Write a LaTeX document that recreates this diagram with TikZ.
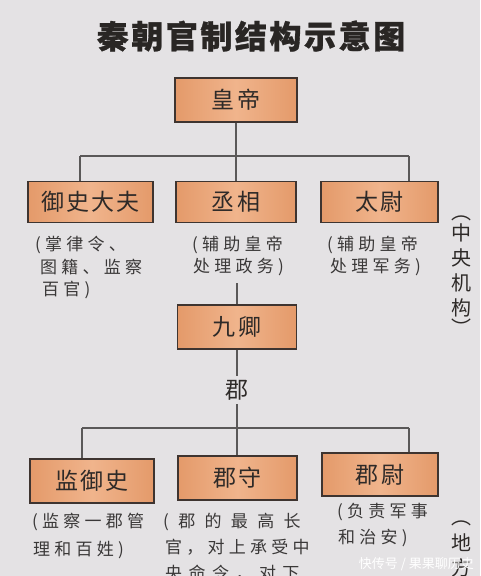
\documentclass[tikz,border=0pt]{standalone}
\usepackage{fontspec}
\newfontfamily\cjk{Noto Sans CJK SC}
\definecolor{paper}{HTML}{E4E2E4}
\definecolor{orE}{HTML}{E49A6A}
\definecolor{orM}{HTML}{F0B48C}
\definecolor{boxline}{HTML}{3E3430}
\definecolor{linec}{HTML}{5A5858}
\definecolor{ink}{HTML}{2E2A28}
\definecolor{descink}{HTML}{3A3838}
\newcommand\titlefont{\cjk\bfseries\fontsize{32}{32}\selectfont\addfontfeature{LetterSpace=8,FakeBold=1}}
\newcommand\boxfont{\cjk\fontsize{23}{23}\selectfont\addfontfeature{LetterSpace=10}}
\newcommand\descfont{\cjk\fontsize{17}{17}\selectfont\addfontfeature{LetterSpace=25}}
\newcommand\vertfont{\cjk\fontsize{20}{25}\selectfont}
\begin{document}
\begin{tikzpicture}[x=1pt,y=-1pt,
  box/.style={draw=boxline, line width=1.3pt, left color=orE, right color=orE, middle color=orM,
    inner sep=0pt, font=\boxfont, text=ink},
  conn/.style={draw=linec, line width=1.3pt},
  desc/.style={anchor=west, inner sep=0pt, font=\descfont, text=descink},
  vert/.style={inner sep=0pt, font=\vertfont, text=ink, align=center},
]
\useasboundingbox (0,0) rectangle (480,576);
\clip (0,0) rectangle (480,576);
\fill[paper] (0,0) rectangle (480,576);

% title
\node[font=\titlefont, text=ink!90!black] (title) at (251,36) {秦朝官制结构示意图};

% boxes
\node[box, minimum width=122pt, minimum height=44pt] (huangdi) at (236,100) {皇帝};
\node[box, minimum width=125pt, minimum height=41pt] (yushi) at (90.5,202) {御史大夫};
\node[box, minimum width=120pt, minimum height=41pt] (chengxiang) at (236,202) {丞相};
\node[box, minimum width=117pt, minimum height=41pt] (taiwei) at (379.5,202) {太尉};
\node[box, minimum width=119pt, minimum height=44pt] (jiuqing) at (237,327) {九卿};
\node[box, minimum width=124pt, minimum height=44pt] (jianyushi) at (92,481) {监御史};
\node[box, minimum width=119pt, minimum height=44pt] (junshou) at (237.5,478) {郡守};
\node[box, minimum width=116pt, minimum height=43pt] (junwei) at (380,474.5) {郡尉};

% label on the trunk
\node[inner sep=0pt, minimum height=28pt, font=\boxfont, text=ink] (jun) at (237,390) {郡};

% connectors, upper level
\coordinate (t1) at (236,156);
\coordinate (tl) at (80,156);
\coordinate (tr) at (409,156);
\draw[conn] (huangdi.south) -- (t1);
\draw[conn] (tl) -- (tr);
\draw[conn] (tl) -- (yushi.north -| tl);
\draw[conn] (t1) -- (chengxiang.north);
\draw[conn] (tr) -- (taiwei.north -| tr);

% connectors, middle
\coordinate (cxd) at (237,283);
\draw[conn] (cxd) -- (jiuqing.north);
\draw[conn] (jiuqing.south) -- (jun.north);
\coordinate (b1) at (237,428);
\coordinate (bl) at (82,428);
\coordinate (br) at (409,428);
\draw[conn] (jun.south) -- (b1);
\draw[conn] (bl) -- (br);
\draw[conn] (bl) -- (jianyushi.north -| bl);
\draw[conn] (b1) -- (junshou.north -| b1);
\draw[conn] (br) -- (junwei.north -| br);

% descriptions, row 2
\node[desc] (d1a) at (35,245) {(掌律令、};
\node[desc] (d1b) at (40,267) {图籍、监察};
\node[desc] (d1c) at (42,290) {百官)};
\node[desc] (d2a) at (192,245) {(辅助皇帝};
\node[desc] (d2b) at (193,267) {处理政务)};
\node[desc] (d3a) at (327,245) {(辅助皇帝};
\node[desc] (d3b) at (330,267) {处理军务)};

% descriptions, row 3
\node[desc] (e1a) at (32,522) {(监察一郡管};
\node[desc] (e1b) at (33,550) {理和百姓)};
\node[desc, font=\descfont\addfontfeature{LetterSpace=55}] (e2a) at (163,522) {(郡的最高长};
\node[desc] (e2b) at (165,547) {官，对上承受中};
\node[desc, font=\descfont\addfontfeature{LetterSpace=38}] (e2c) at (165,573) {央命令，对下};
\node[desc] (e3a) at (337,512) {(负责军事};
\node[desc] (e3b) at (338,538) {和治安)};

% vertical side labels
\node[vert] (centralL) at (461,218) {︵};
\node[vert] (central) at (461,270) {中\\央\\机\\构};
\node[vert] (centralR) at (461,327) {︶};
\node[vert] (localL) at (461,523) {︵};
\node[vert] (local) at (461,555.5) {地\\方};

% watermark
\node[anchor=east, inner sep=0pt, font=\cjk\fontsize{13}{13}\selectfont, text=white] (wm) at (474,564) {快传号 / 果果聊历史};
\end{tikzpicture}
\end{document}
